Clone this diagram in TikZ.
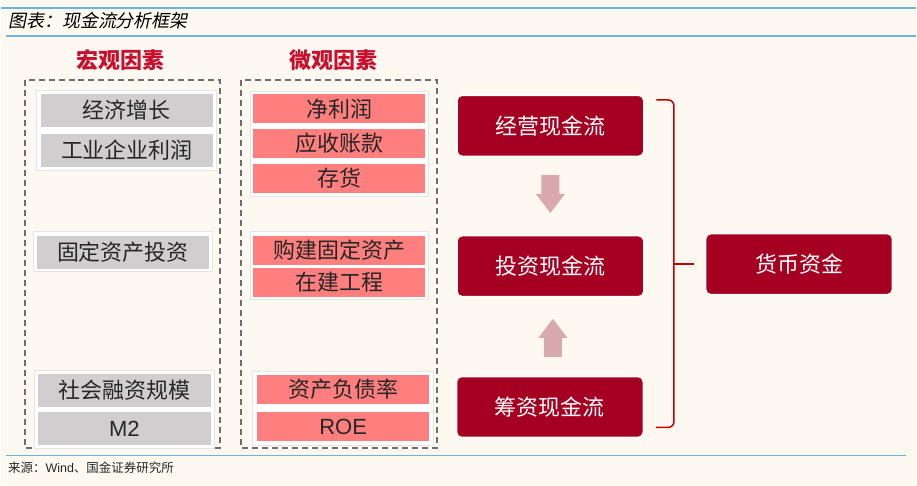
\documentclass[tikz,border=0pt]{standalone}
\usepackage{fontspec}
\setmainfont{Noto Sans CJK SC}
\newfontfamily\titlefont{Noto Sans CJK SC}[FakeSlant=0.2]
\newfontfamily\arialfont{Liberation Sans}
\usetikzlibrary{calc}
\definecolor{paper}{HTML}{FDF9F0}
\definecolor{rulebl}{HTML}{6CB4D9}
\definecolor{headred}{HTML}{C8102E}
\definecolor{macrogray}{HTML}{D0CECE}
\definecolor{micropink}{HTML}{FF7F7F}
\definecolor{flowred}{HTML}{A50021}
\definecolor{arrowpink}{HTML}{D9A9AD}
\definecolor{bracered}{HTML}{C00000}
\definecolor{dashgray}{HTML}{6E6E6E}
\definecolor{textdark}{HTML}{262626}
\begin{document}
\begin{tikzpicture}[x=1pt,y=-1pt,
    rule/.style={rulebl, line width=1.2pt},
    head/.style={text=headred, font=\bfseries\fontsize{22}{22}\selectfont},
    dashframe/.style={dashgray, line width=2pt, dash pattern=on 6pt off 4pt},
    panel/.style={fill=white, draw=black!10, line width=0.6pt},
    macro/.style={fill=macrogray, minimum width=173pt, minimum height=33pt, inner sep=0pt,
        text=textdark, font=\fontsize{22}{22}\selectfont},
    micro/.style={fill=micropink, minimum width=172pt, minimum height=29pt, inner sep=0pt,
        text=textdark, font=\fontsize{22}{22}\selectfont},
    flow/.style={fill=flowred, draw=white, line width=1.5pt, rounded corners=5pt,
        minimum width=187pt, minimum height=61pt, inner sep=0pt,
        text=white, font=\fontsize{22}{22}\selectfont},
    flowarrow/.style={fill=arrowpink},
    bracestyle/.style={bracered, line width=1.5pt}
]
    \fill[paper] (0,0) rectangle (917,486);
    \draw[rule]
        (0,8) -- (917,8)
        (5,36) -- (917,36)
        (5,456) -- (907,456)
    ;
    \node[anchor=west, font=\titlefont\fontsize{18}{18}\selectfont] (title) at (4,21) {图表：现金流分析框架};
    \node[head] (macrohead) at (120,60) {宏观因素};
    \node[head] (microhead) at (333,60) {微观因素};

    % frames of the two factor columns
    \draw[dashframe]
        (24,80) rectangle (220,449)
        (241,80) rectangle (437,449)
    ;
    \filldraw[panel]
        (36,90) rectangle (216,171)
        (33,232) rectangle (212,272)
        (34,371) rectangle (214,449)
        (250,91) rectangle (428,197)
        (250,232) rectangle (428,300)
        (252,372) rectangle (433,446)
    ;

    % macro factors
    \node[macro] (gdp) at (126.5,110.5) {经济增长};
    \node[macro] (profit) at (126.5,150.5) {工业企业利润};
    \node[macro] (fai) at (122.5,252.5) {固定资产投资};
    \node[macro] (tsf) at (124,391) {社会融资规模};
    \node[macro, font=\arialfont\fontsize{22}{22}\selectfont] (mtwo) at (124,429) {M2};

    % micro factors
    \node[micro] (netprofit) at (339,109) {净利润};
    \node[micro] (receivable) at (339,143.5) {应收账款};
    \node[micro] (stock) at (339,178.5) {存货};
    \node[micro] (capex) at (339,250.5) {购建固定资产};
    \node[micro] (cip) at (339,283) {在建工程};
    \node[micro] (leverage) at (343,390) {资产负债率};
    \node[micro, font=\arialfont\fontsize{22}{22}\selectfont] (roe) at (343,427.5) {ROE};

    % cash flows
    \node[flow] (opcf) at (550.5,126) {经营现金流};
    \node[flow] (invcf) at (550.5,266.5) {投资现金流};
    \node[flow] (fincf) at (550,407.5) {筹资现金流};
    \node[flow] (cash) at (799.5,264.5) {货币资金};

    \fill[flowarrow]
        ($(opcf.south)+(-9,18)$) -- ++(18,0) -- ++(0,19) -- ++(5.5,0)
        -- ++(-14.5,19) -- ++(-14.5,-19) -- ++(5.5,0) -- cycle
    ;
    \fill[flowarrow]
        ($(fincf.north)+(-6,-19)$) -- ++(18,0) -- ++(0,-19) -- ++(5.5,0)
        -- ++(-14.5,-19) -- ++(-14.5,19) -- ++(5.5,0) -- cycle
    ;

    % brace
    \coordinate (bracetop) at ($(opcf.east)+(12,-26)$);
    \coordinate (bracebot) at ($(fincf.east)+(12,20.5)$);
    \coordinate (bracetip) at ($(cash.west)+(-11,0)$);
    \draw[bracestyle, rounded corners=6pt]
        (bracetop) -| ($(bracetip)+(-20,0)$) |- (bracebot);
    \draw[bracestyle] ($(bracetip)+(-20,0)$) -- (bracetip);

    \node[anchor=west, text=textdark, font=\fontsize{12.5}{12.5}\selectfont] (source) at (4,468)
        {来源：{\arialfont Wind}、国金证券研究所};
\end{tikzpicture}
\end{document}
